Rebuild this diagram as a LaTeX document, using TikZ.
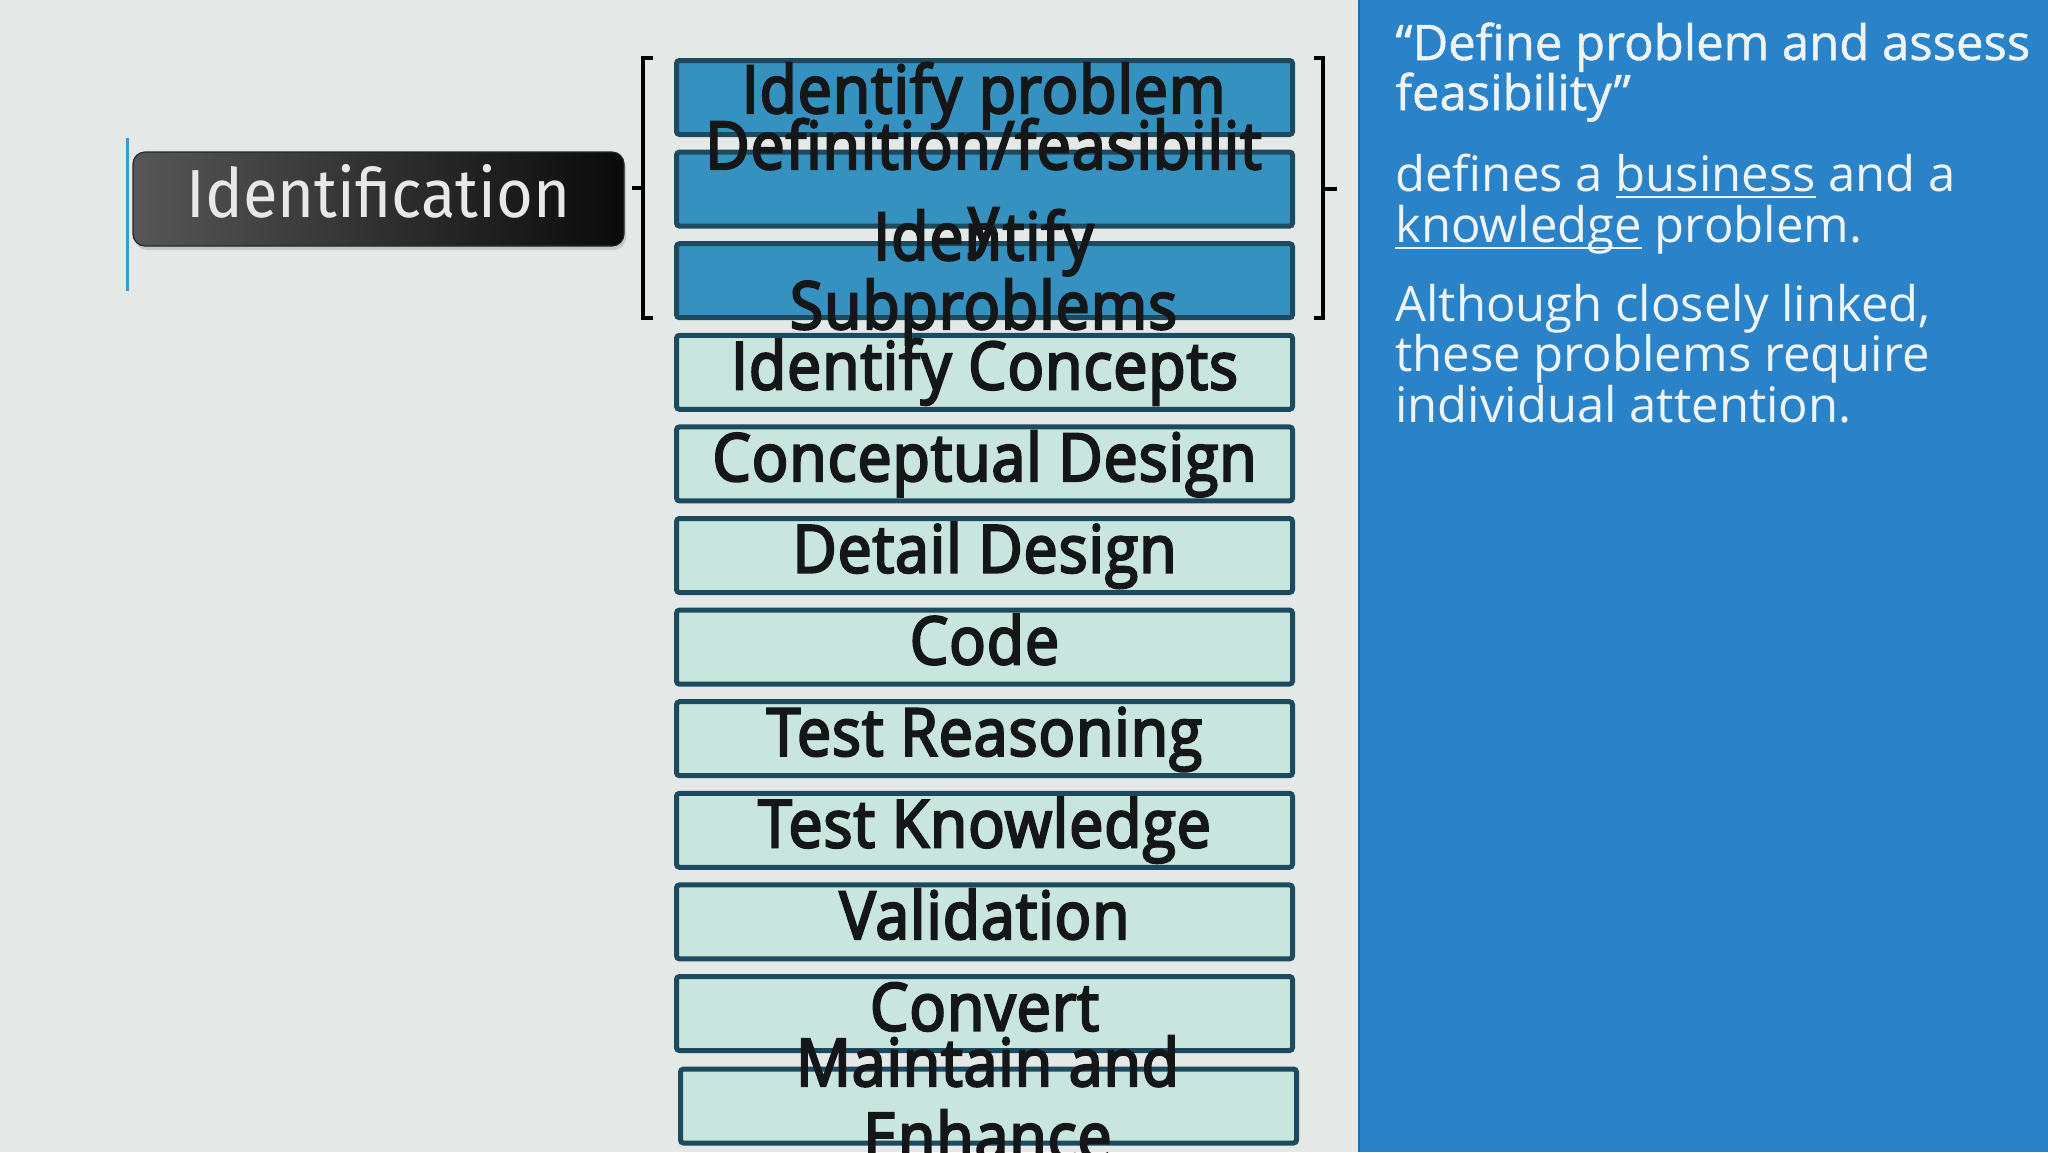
\documentclass[tikz,border=0pt]{standalone}
\usepackage{fontspec}
\setmainfont{Open Sans}
\newfontfamily\boxfont{Open Sans}[FakeStretch=0.92,FakeBold=3.5,LetterSpace=1.5]
\newfontfamily\idfont{Fira Sans}[FakeStretch=0.93]
\newfontfamily\panelfont{Open Sans}
\usetikzlibrary{shadows}
\definecolor{bg}{HTML}{E4E9E8}
\definecolor{panel}{HTML}{2A83C9}
\definecolor{paneledge}{HTML}{1F6DAA}
\definecolor{darkfill}{HTML}{3592C0}
\definecolor{lightfill}{HTML}{C8E5DE}
\definecolor{boxline}{HTML}{1C4A5F}
\definecolor{boxtext}{HTML}{141618}
\definecolor{paneltext}{HTML}{EEF3F6}
\definecolor{idline}{HTML}{3A9AD2}
\newcommand\myul[1]{\setbox0\hbox{#1}\rlap{\rule[-3.6pt]{\wd0}{0.9pt}}\box0\relax}
\tikzset{
  stepbox/.style={draw=boxline, line width=2.5pt, rounded corners=1.5pt,
    minimum width=308pt, minimum height=37pt, inner sep=0pt,
    font=\boxfont\fontsize{33pt}{36pt}\selectfont, text=boxtext,
    text height=23.5pt, text depth=6.5pt},
  darkbox/.style={stepbox, fill=darkfill},
  lightbox/.style={stepbox, fill=lightfill},
  overtext/.style={anchor=base, inner sep=0pt,
    font=\boxfont\fontsize{33pt}{36pt}\selectfont, text=boxtext},
  ptext/.style={anchor=base west, inner sep=0pt, text=paneltext,
    font=\panelfont\fontsize{24.5pt}{25pt}\selectfont},
  bracket/.style={line width=2pt, black},
}
\begin{document}
\begin{tikzpicture}[x=0.5pt,y=-0.5pt]
\useasboundingbox (0,0) rectangle (2048,1152);
\fill[bg] (0,0) rectangle (2048,1152);
% right panel
\fill[panel] (1358,0) rectangle (2048,1152);
\draw[paneledge, line width=1pt] (1358.5,0) -- (1358.5,1152);

% identification
\draw[idline, line width=1.5pt] (127,138) -- (127,291);
\node[rounded corners=6pt, draw=black!85, line width=0.6pt,
  left color=black!66, right color=black!96,
  drop shadow={opacity=0.3, shadow xshift=1pt, shadow yshift=-2pt},
  minimum width=245.5pt, minimum height=47pt, inner sep=0pt,
  text=white!91!black, font=\idfont\fontsize{34pt}{36pt}\selectfont,
  text height=25pt, text depth=7pt] (ident) at (378.5,199) {Identification};

% boxes
\node[darkbox] (b1) at (984.5,97.5) {};
\node[darkbox] (b2) at (984.5,189.1) {};
\node[darkbox] (b3) at (984.5,280.7) {};
\node[lightbox] (b4) at (984.5,372.3) {Identify Concepts};
\node[lightbox] (b5) at (984.5,463.9) {Conceptual Design};
\node[lightbox] (b6) at (984.5,555.5) {Detail Design};
\node[lightbox] (b7) at (984.5,647.1) {Code};
\node[lightbox] (b8) at (984.5,738.7) {Test Reasoning};
\node[lightbox] (b9) at (984.5,830.3) {Test Knowledge};
\node[lightbox] (b10) at (984.5,921.9) {Validation};
\node[lightbox] (b11) at (984.5,1013.5) {Convert};
\node[lightbox] (b12) at (988.5,1106) {};

% overflowing texts
\node[overtext] (t1a) at (983.5,113) {Identify problem};
\node[overtext] (t1b) at (983.5,169) {Definition/feasibilit};
\node[overtext] (t1c) at (983.5,243) {y};
\node[overtext] (t3a) at (983.5,260) {Identify};
\node[overtext] (t3b) at (983.5,329) {Subproblems};
\node[overtext] (t12a) at (987.5,1086) {Maintain and};
\node[overtext] (t12b) at (987.5,1160) {Enhance};

% brackets
\coordinate (lbt) at (643,58);
\coordinate (lbb) at (643,318);
\coordinate (lbm) at (643,188);
\draw[bracket] ([xshift=5pt]lbt) -- (lbt) -- (lbb) -- ([xshift=5pt]lbb);
\draw[bracket] (lbm) -- ([xshift=-5.5pt]lbm);
\coordinate (rbt) at (1323,58);
\coordinate (rbb) at (1323,318);
\coordinate (rbm) at (1323,189);
\draw[bracket] ([xshift=-4.5pt]rbt) -- (rbt) -- (rbb) -- ([xshift=-4.5pt]rbb);
\draw[bracket] (rbm) -- ([xshift=7pt]rbm);

% panel text
\node[ptext, font=\panelfont\fontsize{24.5pt}{25pt}\selectfont\addfontfeature{FakeBold=1}] (p1) at (1395,60) {“Define problem and assess};
\node[ptext, font=\panelfont\fontsize{24.5pt}{25pt}\selectfont\addfontfeature{FakeBold=1}] (p2) at (1395,110) {feasibility”};
\node[ptext] (p3) at (1395,191) {defines a \myul{business} and a};
\node[ptext] (p4) at (1395,242) {\myul{knowledge} problem.};
\node[ptext] (p5) at (1395,321) {Although closely linked,};
\node[ptext] (p6) at (1395,371) {these problems require};
\node[ptext] (p7) at (1395,422) {individual attention.};
\end{tikzpicture}
\end{document}
